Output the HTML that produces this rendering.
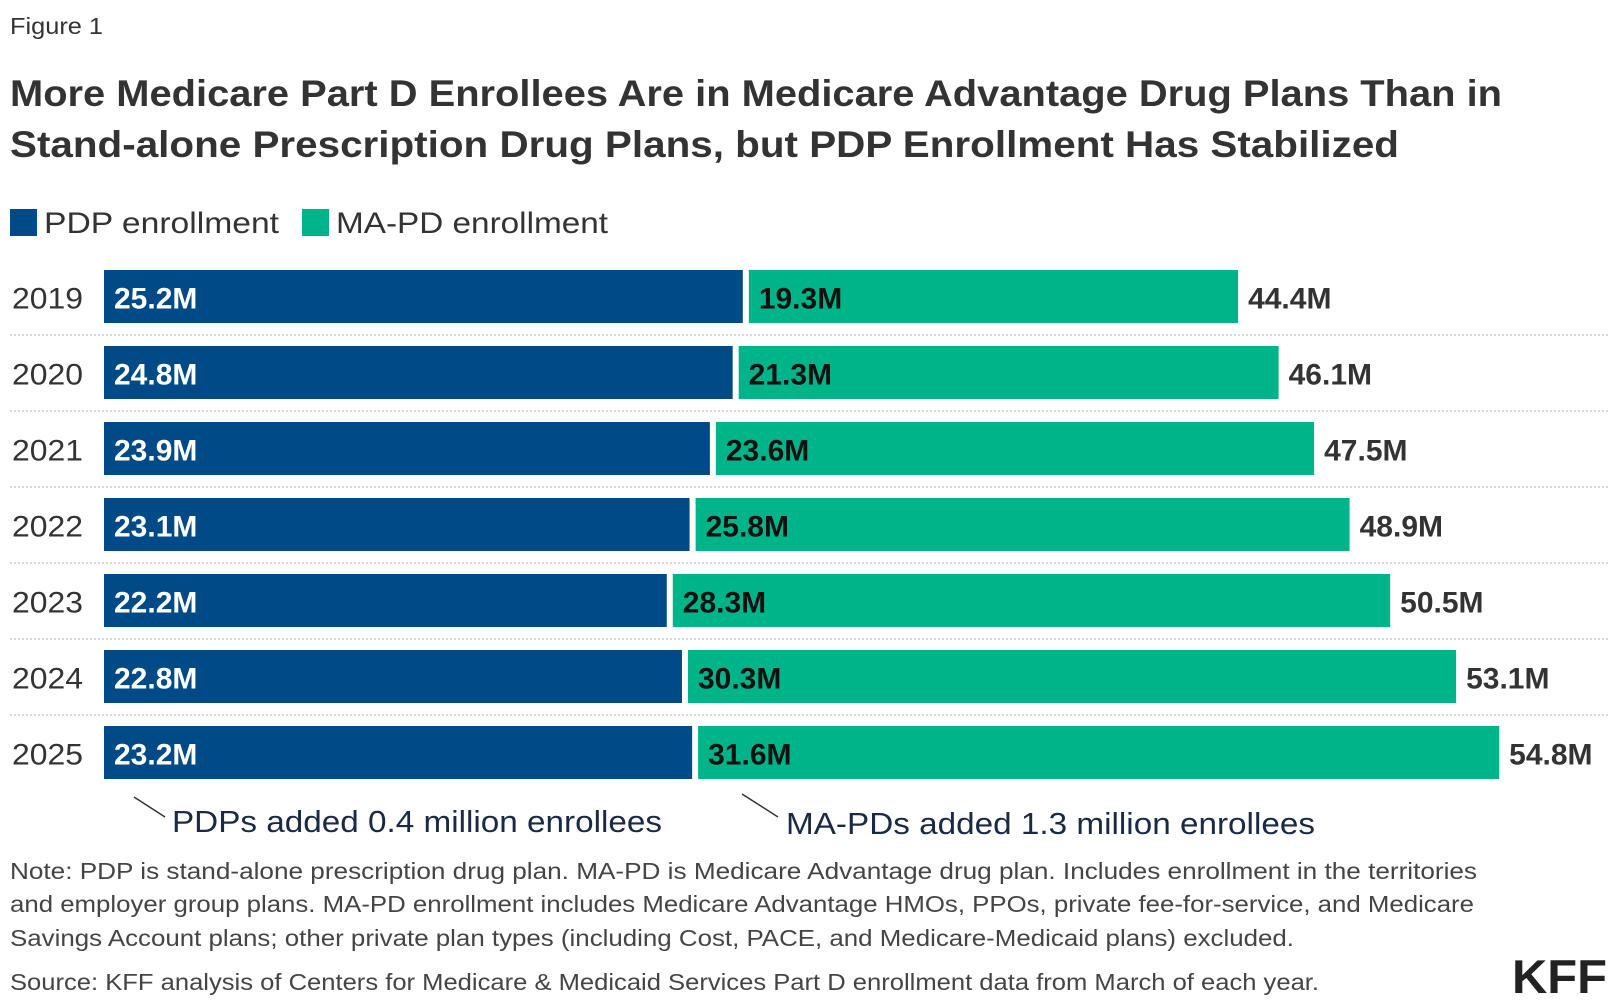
<!DOCTYPE html>
<html><head><meta charset="utf-8"><style>
html,body{margin:0;padding:0;background:#fff;}
svg{display:block;font-family:"Liberation Sans",sans-serif;}
</style></head><body>
<svg id="chart" width="1620" height="1008" viewBox="0 0 1620 1008" xmlns="http://www.w3.org/2000/svg">
<text x="10" y="34" font-size="23" fill="#333" textLength="93" lengthAdjust="spacingAndGlyphs">Figure 1</text>
<text x="10" y="106" font-size="37" font-weight="bold" fill="#333" textLength="1492" lengthAdjust="spacingAndGlyphs">More Medicare Part D Enrollees Are in Medicare Advantage Drug Plans Than in</text>
<text x="10" y="157" font-size="37" font-weight="bold" fill="#333" textLength="1389" lengthAdjust="spacingAndGlyphs">Stand-alone Prescription Drug Plans, but PDP Enrollment Has Stabilized</text>
<g>
<rect x="10" y="209" width="27" height="27" fill="#004A88"/>
<text x="44" y="233" font-size="30" fill="#333" textLength="235" lengthAdjust="spacingAndGlyphs">PDP enrollment</text>
<rect x="302" y="209" width="27" height="27" fill="#00B48A"/>
<text x="336" y="233" font-size="30" fill="#333" textLength="272" lengthAdjust="spacingAndGlyphs">MA-PD enrollment</text>
</g>
<g id="bars"></g>
<g>
<line x1="134" y1="797" x2="165" y2="817" stroke="#333" stroke-width="1.5"/>
<text x="172" y="832" font-size="31" fill="#1b2a44" textLength="490" lengthAdjust="spacingAndGlyphs">PDPs added 0.4 million enrollees</text>
<line x1="742" y1="794" x2="778" y2="817" stroke="#333" stroke-width="1.5"/>
<text x="786" y="834" font-size="31" fill="#1b2a44" textLength="529" lengthAdjust="spacingAndGlyphs">MA-PDs added 1.3 million enrollees</text>
</g>
<g font-size="23" fill="#444">
<text x="10" y="879" textLength="1467" lengthAdjust="spacingAndGlyphs">Note: PDP is stand-alone prescription drug plan. MA-PD is Medicare Advantage drug plan. Includes enrollment in the territories</text>
<text x="10" y="912" textLength="1464" lengthAdjust="spacingAndGlyphs">and employer group plans. MA-PD enrollment includes Medicare Advantage HMOs, PPOs, private fee-for-service, and Medicare</text>
<text x="10" y="946" textLength="1284" lengthAdjust="spacingAndGlyphs">Savings Account plans; other private plan types (including Cost, PACE, and Medicare-Medicaid plans) excluded.</text>
<text x="10" y="990" textLength="1309" lengthAdjust="spacingAndGlyphs">Source: KFF analysis of Centers for Medicare &amp; Medicaid Services Part D enrollment data from March of each year.</text>
</g>
<text x="1512" y="993" font-size="47" font-weight="bold" fill="#222" textLength="95" lengthAdjust="spacingAndGlyphs">KFF</text>
</svg>
<script>
const years = ["2019","2020","2021","2022","2023","2024","2025"];
const pdp = [25.2, 24.8, 23.9, 23.1, 22.2, 22.8, 23.2];
const mapd = [19.3, 21.3, 23.6, 25.8, 28.3, 30.3, 31.6];
const totals = [44.4, 46.1, 47.5, 48.9, 50.5, 53.1, 54.8];

const NS = "http://www.w3.org/2000/svg";
const x0 = 104, pxPerM = 25.35, gap = 6;
const xScale = v => v * pxPerM;
const rowTop = i => 270 + i * 76;
const barH = 53;
const g = document.getElementById('bars');
function mk(tag, attrs){const e=document.createElementNS(NS,tag);for(const k in attrs)e.setAttribute(k,attrs[k]);return e;}
years.forEach((y,i)=>{
  const top=rowTop(i), cy=top+barH/2+12;
  const yl=mk('text',{x:12,y:cy,'font-size':30,fill:'#333',textLength:71,lengthAdjust:'spacingAndGlyphs'});
  
  
  yl.textContent=y; g.appendChild(yl);
  const w1=xScale(pdp[i]);
  const b1=mk('rect',{x:x0,y:top,width:w1,height:barH,fill:'#004A88'});
  
  
  g.appendChild(b1);
  const t1=mk('text',{x:x0+10,y:cy,'font-size':30,'font-weight':'bold',fill:'#fff'});
  
  
  t1.textContent=pdp[i].toFixed(1)+'M'; g.appendChild(t1);
  const x2=x0+w1+gap, w2=xScale(mapd[i]);
  const b2=mk('rect',{x:x2,y:top,width:w2,height:barH,fill:'#00B48A'});
  
  
  g.appendChild(b2);
  const t2=mk('text',{x:x2+10,y:cy,'font-size':30,'font-weight':'bold',fill:'#111'});
  
  
  t2.textContent=mapd[i].toFixed(1)+'M'; g.appendChild(t2);
  const t3=mk('text',{x:x2+w2+10,y:cy,'font-size':30,'font-weight':'bold',fill:'#333'});
  
  
  t3.textContent=totals[i].toFixed(1)+'M'; g.appendChild(t3);
  if(i<years.length-1){
    const ln=mk('line',{x1:10,x2:1610,y1:top+65,y2:top+65,stroke:'#ccc','stroke-width':1.5,'stroke-dasharray':'2,2'});
    
    
    g.appendChild(ln);
  }
});
</script>
</body></html>
